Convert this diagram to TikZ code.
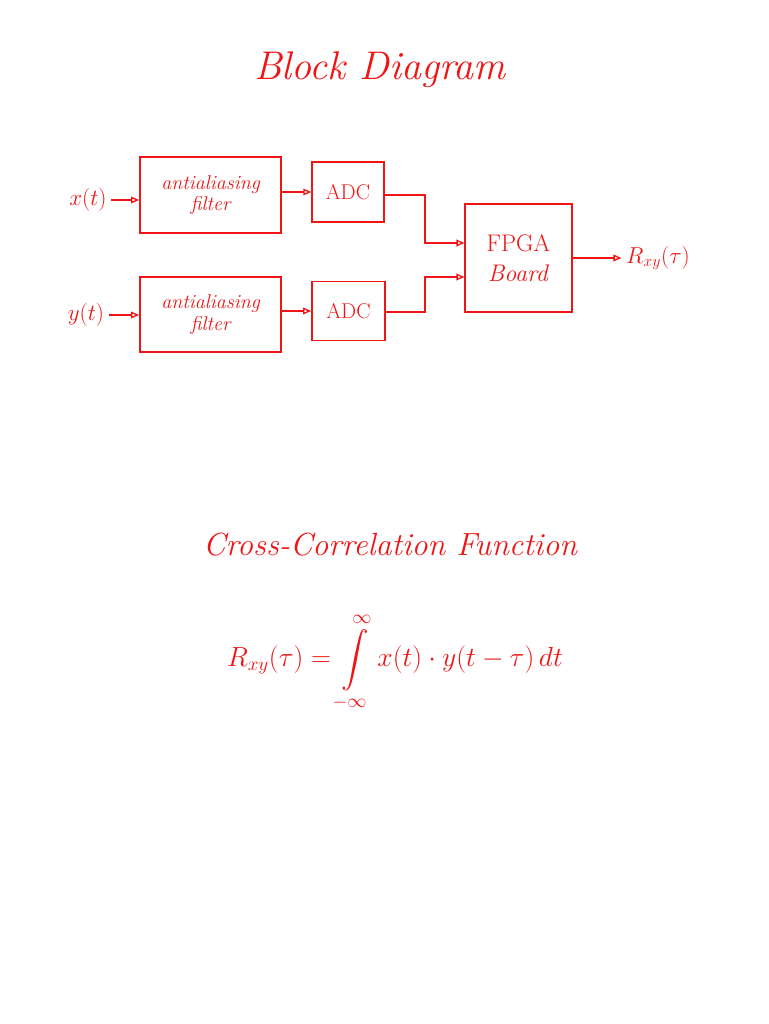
\documentclass[tikz,border=0pt]{standalone}
\usepackage{amsmath}
\usetikzlibrary{arrows.meta}
\definecolor{ink}{RGB}{240,20,20}
\begin{document}
\begin{tikzpicture}[x=0.75pt,y=-0.75pt,
  blk/.style={draw=ink,line width=1.1pt,align=center,text=ink,font=\itshape\fontsize{15}{16}\selectfont,inner sep=0pt},
  wire/.style={draw=ink,line width=1pt,-{Triangle[open,length=6pt,width=5pt]}},
  lbl/.style={text=ink}]
\useasboundingbox (0,0) rectangle (768,1024);
\fill[white] (0,0) rectangle (768,1024);
\node[lbl,font=\itshape\fontsize{30}{32}\selectfont] (title) at (380,70) {Block Diagram};
\node[blk,minimum width=106pt,minimum height=57pt] (f1) at (210.5,195) {antialiasing\\filter};
\node[blk,minimum width=54pt,minimum height=45pt,font=\fontsize{16}{17}\selectfont] (a1) at (348,192) {ADC};
\node[blk,minimum width=106pt,minimum height=56pt] (f2) at (210.5,314.5) {antialiasing\\filter};
\node[blk,minimum width=55pt,minimum height=44pt,font=\fontsize{16}{17}\selectfont] (a2) at (348.5,311) {ADC};
\node[blk,minimum width=80pt,minimum height=81pt,font=\fontsize{18}{22}\selectfont] (fp) at (518.5,258) {FPGA\\\textit{Board}};
\node[lbl,font=\fontsize{17}{18}\selectfont] (x) at (88,200) {$x(t)$};
\node[lbl,font=\fontsize{17}{18}\selectfont] (y) at (86,315) {$y(t)$};
\node[lbl,font=\fontsize{17}{18}\selectfont] (r) at (658,258) {$R_{xy}(\tau)$};
\draw[wire] (x.east) -- (f1.west|-x.east);
\draw[wire] (y.east) -- (f2.west|-y.east);
\draw[wire] (f1.east|-a1.west) -- (a1.west);
\draw[wire] (f2.east|-a2.west) -- (a2.west);
\coordinate (c1) at (425,195);
\coordinate (c2) at (425,312);
\draw[wire] (a1.east|-c1) -- (c1) -- (425,243) -- (fp.west|-0,243);
\draw[wire] (a2.east|-c2) -- (c2) -- (425,277) -- (fp.west|-0,277);
\draw[wire] (fp.east|-r.west) -- (r.west);
\node[lbl,font=\itshape\fontsize{24}{26}\selectfont] (cc) at (390,545) {Cross-Correlation Function};
\node[lbl,font=\fontsize{22}{24}\selectfont] (eq) at (395,662) {$\displaystyle R_{xy}(\tau)=\int\limits_{-\infty}^{\infty} x(t)\cdot y(t-\tau)\,dt$};
\end{tikzpicture}
\end{document}
